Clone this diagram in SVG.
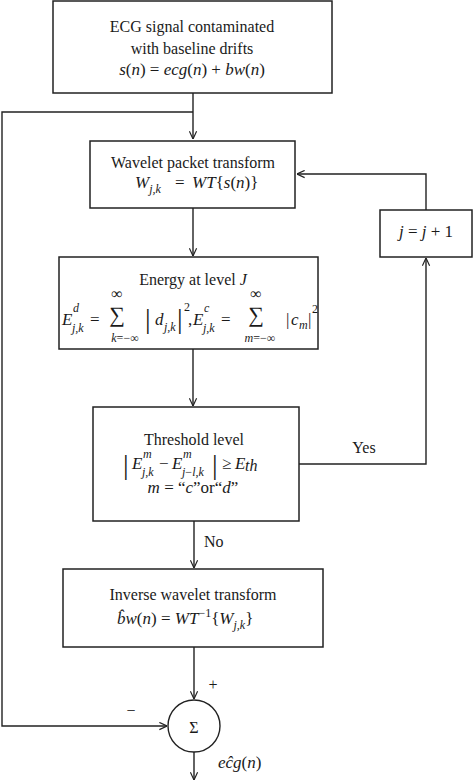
<svg xmlns="http://www.w3.org/2000/svg" width="474" height="781" viewBox="0 0 474 781">
<style>
text{font-family:"Liberation Serif","Times New Roman",serif;font-size:16px;fill:#1a1a1a}
.i{font-style:italic}
.m{font-size:17px}
.s{font-size:12px}
.bar{font-size:28px}
.sig{font-size:22px}
.box{fill:#fff;stroke:#222;stroke-width:1.5}
.ln{fill:none;stroke:#222;stroke-width:1.4}
</style>
<defs>
<marker id="ar" viewBox="0 0 10 10" refX="9.5" refY="5" markerWidth="9" markerHeight="9" markerUnits="userSpaceOnUse" orient="auto">
<path d="M1,1 L9.5,5 L1,9" fill="none" stroke="#222" stroke-width="1.3"/>
</marker>
</defs>
<rect width="474" height="781" fill="#fff"/>
<g id="connectors">
<path class="ln" d="M193,93 V139" marker-end="url(#ar)"/>
<path class="ln" d="M193,112 H2 V726 H167" marker-end="url(#ar)"/>
<path class="ln" d="M193,208 V256" marker-end="url(#ar)"/>
<path class="ln" d="M193,349 V406" marker-end="url(#ar)"/>
<path class="ln" d="M194,521 V568" marker-end="url(#ar)"/>
<path class="ln" d="M299,464 H426 V258" marker-end="url(#ar)"/>
<path class="ln" d="M426,210 V174 H297" marker-end="url(#ar)"/>
<path class="ln" d="M194,647 V699" marker-end="url(#ar)"/>
<path class="ln" d="M194,752 V780" marker-end="url(#ar)"/>
<text x="364" y="453" text-anchor="middle">Yes</text>
<text x="204" y="547">No</text>
<text x="213" y="690" text-anchor="middle">+</text>
<text x="131" y="716" text-anchor="middle">−</text>
<text x="218" y="768" class="m"><tspan class="i">eĉg</tspan>(<tspan class="i">n</tspan>)</text>
</g>
<g id="input">
<rect class="box" x="53" y="1" width="279" height="92"/>
<text x="192" y="32" text-anchor="middle">ECG signal contaminated</text>
<text x="192" y="54" text-anchor="middle">with baseline drifts</text>
<text x="192" y="75" text-anchor="middle" class="m"><tspan class="i">s</tspan>(<tspan class="i">n</tspan>) = <tspan class="i">ecg</tspan>(<tspan class="i">n</tspan>) + <tspan class="i">bw</tspan>(<tspan class="i">n</tspan>)</text>
</g>
<g id="wpt">
<rect class="box" x="90" y="141" width="205" height="67"/>
<text x="193" y="168" text-anchor="middle">Wavelet packet transform</text>
<text x="135" y="188" class="m"><tspan class="i">W</tspan><tspan class="i s" dy="5">j,k</tspan><tspan dy="-5" x="175">=</tspan><tspan class="i" x="192">WT</tspan>{<tspan class="i">s</tspan>(<tspan class="i">n</tspan>)}</text>
</g>
<g id="incr">
<rect class="box" x="380" y="210" width="92" height="47"/>
<text x="426" y="237" text-anchor="middle" class="m"><tspan class="i">j</tspan> = <tspan class="i">j</tspan> + 1</text>
</g>
<g id="energy">
<rect class="box" x="59" y="257" width="259" height="92"/>
<text x="193" y="285" text-anchor="middle">Energy at level <tspan class="i">J</tspan></text>
<text x="62" y="325" class="i m">E</text>
<text x="73" y="312" class="i s">d</text>
<text x="72" y="332" class="i s">j,k</text>
<text x="90" y="325" class="m">=</text>
<text x="117" y="322" text-anchor="middle" class="sig">∑</text>
<text x="117" y="299" text-anchor="middle" font-size="13">∞</text>
<text x="125" y="342" text-anchor="middle" class="s"><tspan class="i">k</tspan>=−∞</text>
<text x="145" y="328" class="bar">|</text>
<text x="155" y="325" class="i m">d</text>
<text x="164" y="331" class="i s">j,k</text>
<text x="177" y="328" class="bar">|</text>
<text x="184" y="311" class="s">2</text>
<text x="188" y="325" class="m">,</text>
<text x="193" y="325" class="i m">E</text>
<text x="204" y="312" class="i s">c</text>
<text x="203" y="332" class="i s">j,k</text>
<text x="221" y="325" class="m">=</text>
<text x="256" y="322" text-anchor="middle" class="sig">∑</text>
<text x="256" y="299" text-anchor="middle" font-size="13">∞</text>
<text x="260" y="342" text-anchor="middle" class="s"><tspan class="i">m</tspan>=−∞</text>
<text x="286" y="325" class="m">|</text>
<text x="291" y="325" class="i m">c</text>
<text x="299" y="329" class="i s">m</text>
<text x="308" y="325" class="m">|</text>
<text x="312" y="313" class="s">2</text>
</g>
<g id="threshold">
<rect class="box" x="93" y="407" width="206" height="114"/>
<text x="194" y="445" text-anchor="middle">Threshold level</text>
<text x="123" y="474" class="bar">|</text>
<text x="132" y="469" class="i m">E</text>
<text x="143" y="458" class="i s">m</text>
<text x="142" y="476" class="i s">j,k</text>
<text x="159" y="469" class="m">−</text>
<text x="172" y="469" class="i m">E</text>
<text x="183" y="458" class="i s">m</text>
<text x="182" y="476" class="s"><tspan class="i">j</tspan>−<tspan class="i">l</tspan>,<tspan class="i">k</tspan></text>
<text x="212" y="474" class="bar">|</text>
<text x="222" y="469" class="m">≥</text>
<text x="235" y="469" class="i m">E</text>
<text x="245" y="471" class="i" font-size="14">th</text>
<text x="193" y="493" text-anchor="middle" class="m"><tspan class="i">m</tspan> = “<tspan class="i">c</tspan>”or“<tspan class="i">d</tspan>”</text>
</g>
<g id="inverse">
<rect class="box" x="63" y="569" width="260" height="78"/>
<text x="193" y="600" text-anchor="middle">Inverse wavelet transform</text>
<text x="117" y="624" class="m"><tspan class="i">b̂w</tspan>(<tspan class="i">n</tspan>) = <tspan class="i">WT</tspan><tspan class="s" dy="-7">−1</tspan><tspan dy="7">{</tspan><tspan class="i">W</tspan><tspan class="i s" dy="5">j,k</tspan><tspan dy="-5">}</tspan></text>
</g>
<g id="sum">
<circle cx="194" cy="726" r="26" fill="#fff" stroke="#222" stroke-width="1.4"/>
<text x="194" y="733" text-anchor="middle" font-size="20">Σ</text>
</g>
</svg>
